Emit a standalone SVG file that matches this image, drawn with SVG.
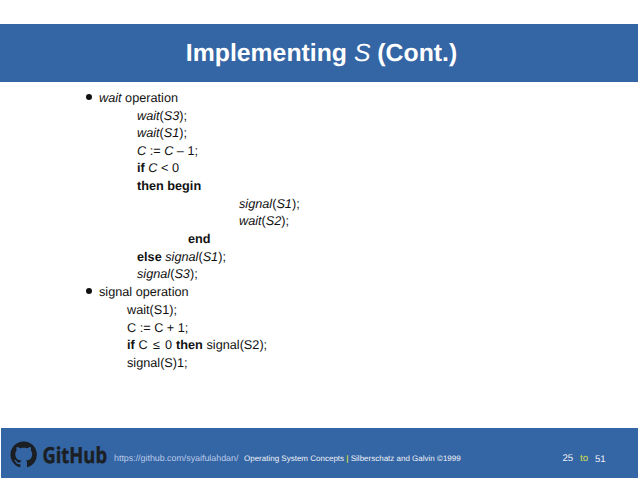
<svg xmlns="http://www.w3.org/2000/svg" width="638" height="478" viewBox="0 0 638 478">
<style>
text{font-family:"Liberation Sans",Arial,sans-serif;text-rendering:geometricPrecision}
.b{font-size:12.7px;fill:#111}
.i{font-style:italic}
.k{font-weight:700}
.f{font-size:8px;fill:#f0f3f8}
</style>
<rect width="638" height="478" fill="#fff"/>
<rect id="header" x="0" y="24" width="638" height="58" fill="#3465a4"/>
<text x="321.5" y="61" text-anchor="middle" font-size="24.8" font-weight="700" fill="#fff">Implementing <tspan font-weight="400" font-style="italic">S</tspan> (Cont.)</text>
<g id="body">
<circle cx="89" cy="97" r="3" fill="#111"/>
<text class="b" x="99" y="102"><tspan class="i">wait</tspan> operation</text>
<text class="b" x="137" y="120"><tspan class="i">wait</tspan>(<tspan class="i">S3</tspan>);</text>
<text class="b" x="137" y="137"><tspan class="i">wait</tspan>(<tspan class="i">S1</tspan>);</text>
<text class="b" x="137" y="155"><tspan class="i">C</tspan> := <tspan class="i">C</tspan> – 1;</text>
<text class="b" x="137" y="172"><tspan class="k">if</tspan> <tspan class="i">C</tspan> &lt; 0</text>
<text class="b k" x="137" y="190">then begin</text>
<text class="b" x="239" y="208"><tspan class="i">signal</tspan>(<tspan class="i">S1</tspan>);</text>
<text class="b" x="239" y="225"><tspan class="i">wait</tspan>(<tspan class="i">S2</tspan>);</text>
<text class="b k" x="188" y="243">end</text>
<text class="b" x="137" y="261"><tspan class="k">else</tspan> <tspan class="i">signal</tspan>(<tspan class="i">S1</tspan>);</text>
<text class="b" x="137" y="278"><tspan class="i">signal</tspan>(<tspan class="i">S3</tspan>);</text>
<circle cx="89" cy="291" r="3" fill="#111"/>
<text class="b" x="99" y="296">signal operation</text>
<text class="b" x="127" y="314">wait(S1);</text>
<text class="b" x="127" y="332">C := C + 1;</text>
<text class="b" x="127" y="349"><tspan class="k">if</tspan> <tspan x="138.5">C</tspan> <tspan x="153">≤</tspan> <tspan x="165">0</tspan> <tspan class="k" x="176">then</tspan> <tspan x="206.5">signal(S2);</tspan></text>
<text class="b" x="127" y="367">signal(S)1;</text>
</g>
<rect id="footer" x="1" y="428" width="637" height="50" fill="#3465a4"/>
<g id="logo">
<path transform="translate(10.5 441.5) scale(1.65)" fill="#1b1f23" d="M8 0C3.58 0 0 3.58 0 8c0 3.54 2.29 6.53 5.47 7.59.4.07.55-.17.55-.38 0-.19-.01-.82-.01-1.49-2.01.37-2.53-.49-2.69-.94-.09-.23-.48-.94-.82-1.13-.28-.15-.68-.52-.01-.53.63-.01 1.08.58 1.23.82.72 1.21 1.87.87 2.33.66.07-.52.28-.87.51-1.07-1.78-.2-3.64-.89-3.64-3.95 0-.87.31-1.59.82-2.15-.08-.2-.36-1.02.08-2.12 0 0 .67-.21 2.2.82.64-.18 1.32-.27 2-.27.68 0 1.36.09 2 .27 1.53-1.04 2.2-.82 2.2-.82.44 1.1.16 1.92.08 2.12.51.56.82 1.27.82 2.15 0 3.07-1.87 3.75-3.65 3.95.29.25.54.73.54 1.48 0 1.07-.01 1.93-.01 2.2 0 .21.15.46.55.38A8.013 8.013 0 0016 8c0-4.42-3.58-8-8-8z"/>
<text x="42.5" y="463" font-size="22" font-weight="700" fill="#1b1f23" stroke="#1b1f23" stroke-width=".4" textLength="64.5" lengthAdjust="spacingAndGlyphs" style="font-family:'Open Sans','Liberation Sans',sans-serif">GitHub</text>
</g>
<g id="footer-text">
<text x="114" y="461" font-size="8.85" fill="#bccbea">https://github.com/syaifulahdan/</text>
<text class="f" x="244" y="461">Operating System Concepts <tspan fill="#c8d84a" font-weight="700">|</tspan> Silberschatz and Galvin ©1999</text>
<text x="562.5" y="461" font-size="9.6" fill="#f0f3f8">25</text>
<text x="580" y="460.5" font-size="9.6" fill="#d6e04a">to</text>
<text x="595" y="462" font-size="9.6" fill="#f0f3f8">51</text>
</g>
</svg>
